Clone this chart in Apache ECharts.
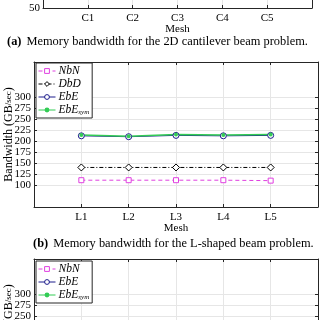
<!DOCTYPE html>
<html>
<head>
<meta charset="utf-8">
<script src="https://cdn.jsdelivr.net/npm/echarts@6/dist/echarts.min.js"></script>
<style>
  html, body { margin: 0; padding: 0; background: #fff; }
  #chart { width: 320px; height: 320px; }
</style>
</head>
<body>
<div id="chart"></div>
<script>
// mesh names on the x axes
const meshA = ['C1', 'C2', 'C3', 'C4', 'C5'];
const meshB = ['L1', 'L2', 'L3', 'L4', 'L5'];
const meshC = ['L1', 'L2', 'L3', 'L4', 'L5'];

// y tick labels
const yTicksA = [50, 75, 100, 125, 150, 175, 200, 225, 250, 275, 300];
const yTicksB = [100, 125, 150, 175, 200, 225, 250, 275, 300];

// bandwidth (GB/sec), L-shaped beam problem
const nbnB = [111, 111, 111, 111, 110];
const dbdB = [140, 140, 140, 140, 140];
const ebeB = [212, 210, 213, 212, 213];
const ebeSymB = [214, 211, 215, 214, 215];

const captionA = 'Memory bandwidth for the 2D cantilever beam problem.';
const captionB = 'Memory bandwidth for the L-shaped beam problem.';

const font = 'Liberation Serif';
const axisColor = '#262626';
const gridColor = '#e6e6e6';

const chart = echarts.init(document.getElementById('chart'));

function xAxes(gridIndex, labels) {
  const pos = labels.map((_, i) => i + 1);
  return [
    {
      type: 'value', gridIndex: gridIndex, min: 0, max: 6, position: 'bottom',
      name: 'Mesh', nameLocation: 'middle', nameGap: 16, nameMoveOverlap: false,
      nameTextStyle: { fontFamily: font, fontSize: 11, color: '#000' },
      axisLine: { onZero: false, lineStyle: { color: axisColor } },
      axisTick: { inside: true, length: 3, customValues: pos, lineStyle: { color: axisColor } },
      axisLabel: {
        customValues: pos, formatter: v => labels[v - 1],
        fontFamily: font, fontSize: 11, color: '#000', margin: 5
      },
      splitLine: { show: true, lineStyle: { color: gridColor } }
    },
    {
      type: 'value', gridIndex: gridIndex, min: 0, max: 6, position: 'top',
      axisLine: { onZero: false, lineStyle: { color: axisColor } },
      axisTick: { inside: true, length: 3, customValues: pos, lineStyle: { color: axisColor } },
      axisLabel: { show: false },
      splitLine: { show: false }
    }
  ];
}

function yAxes(gridIndex, ticks) {
  return [
    {
      type: 'value', gridIndex: gridIndex, min: 50, max: 380, position: 'left',
      name: '{a|Bandwidth (GB}{b|/sec}{a|)}', nameLocation: 'middle', nameGap: 19, nameMoveOverlap: false,
      nameTextStyle: {
        color: '#000',
        rich: {
          a: { fontFamily: font, fontSize: 12, color: '#000' },
          b: { fontFamily: font, fontSize: 9, color: '#000' }
        }
      },
      axisLine: { onZero: false, lineStyle: { color: axisColor } },
      axisTick: { inside: true, length: 3, customValues: ticks, lineStyle: { color: axisColor } },
      axisLabel: { customValues: ticks, fontFamily: font, fontSize: 11, color: '#000', margin: 3 },
      splitLine: { show: true, lineStyle: { color: gridColor } }
    },
    {
      type: 'value', gridIndex: gridIndex, min: 50, max: 380, position: 'right',
      axisLine: { onZero: false, lineStyle: { color: axisColor } },
      axisTick: { inside: true, length: 3, customValues: ticks, lineStyle: { color: axisColor } },
      axisLabel: { show: false },
      splitLine: { show: false }
    }
  ];
}

function legendFor(names, top) {
  return {
    data: names, orient: 'vertical', left: 36, top: top,
    itemWidth: 17, itemHeight: 6, itemGap: 1,
    padding: [2, 3, 2, 2],
    borderColor: axisColor, borderWidth: 1, backgroundColor: '#fff',
    selectedMode: false,
    lineStyle: { width: 1 },
    itemStyle: { borderWidth: 1 },
    formatter: n => n === 'EbE_sym' ? '{m|EbE}{s|sym}' : '{m|' + n + '}',
    textStyle: {
      padding: [0, 0, 0, -2],
      rich: {
        m: { fontFamily: font, fontStyle: 'italic', fontSize: 11.5, lineHeight: 11, color: '#000' },
        s: { fontFamily: font, fontStyle: 'italic', fontSize: 7, lineHeight: 11, color: '#000', padding: [5, 0, 0, 0] }
      }
    }
  };
}

const pts = vals => vals.map((v, i) => [i + 1, v]);

const series = [
  {
    name: 'NbN', type: 'line', xAxisIndex: 2, yAxisIndex: 2, data: pts(nbnB),
    symbol: 'rect', symbolSize: 5, color: '#e040e0',
    lineStyle: { width: 1, type: [4, 3], color: '#e040e0' },
    itemStyle: { color: '#fff', borderColor: '#e040e0', borderWidth: 1 }
  },
  {
    name: 'DbD', type: 'line', xAxisIndex: 2, yAxisIndex: 2, data: pts(dbdB),
    symbol: 'diamond', symbolSize: 7, color: '#000',
    lineStyle: { width: 1, type: [4, 2, 1, 2], color: '#000' },
    itemStyle: { color: '#fff', borderColor: '#000', borderWidth: 1 }
  },
  {
    name: 'EbE', type: 'line', xAxisIndex: 2, yAxisIndex: 2, data: pts(ebeB),
    symbol: 'circle', symbolSize: 6, color: '#1c1c8c',
    lineStyle: { width: 1, color: '#1c1c8c' },
    itemStyle: { color: '#fff', borderColor: '#1c1c8c', borderWidth: 1 }
  },
  {
    name: 'EbE_sym', type: 'line', xAxisIndex: 2, yAxisIndex: 2, data: pts(ebeSymB),
    symbol: 'circle', symbolSize: 4, color: '#33cc55',
    lineStyle: { width: 1.5, color: '#33cc55' },
    itemStyle: { color: '#33cc55' }
  }
];

const captionStyle = {
  fontWeight: 'normal',
  rich: {
    b: { fontFamily: font, fontWeight: 'bold', fontSize: 12.4, color: '#000' },
    t: { fontFamily: font, fontWeight: 'normal', fontSize: 12.4, color: '#000' }
  }
};

chart.setOption({
  animation: false,
  backgroundColor: '#fff',
  title: [
    { text: '{b|(a)} {t|' + captionA + '}', left: 2, top: 28, textStyle: captionStyle },
    { text: '{b|(b)} {t|' + captionB + '}', left: 28, top: 230, textStyle: captionStyle }
  ],
  grid: [
    { left: 43, right: 8, top: -137, height: 145, outerBoundsMode: 'none' },
    { left: 34, right: 2, top: 62, height: 145, outerBoundsMode: 'none' },
    { left: 34, right: 2, top: 259, height: 145, outerBoundsMode: 'none' }
  ],
  xAxis: [...xAxes(0, meshA), ...xAxes(1, meshB), ...xAxes(2, meshC)],
  yAxis: [...yAxes(0, yTicksA), ...yAxes(1, yTicksB), ...yAxes(2, yTicksB)],
  legend: [
    legendFor(['NbN', 'DbD', 'EbE', 'EbE_sym'], 63),
    legendFor(['NbN', 'EbE', 'EbE_sym'], 261)
  ],
  series: series
});
</script>
</body>
</html>
